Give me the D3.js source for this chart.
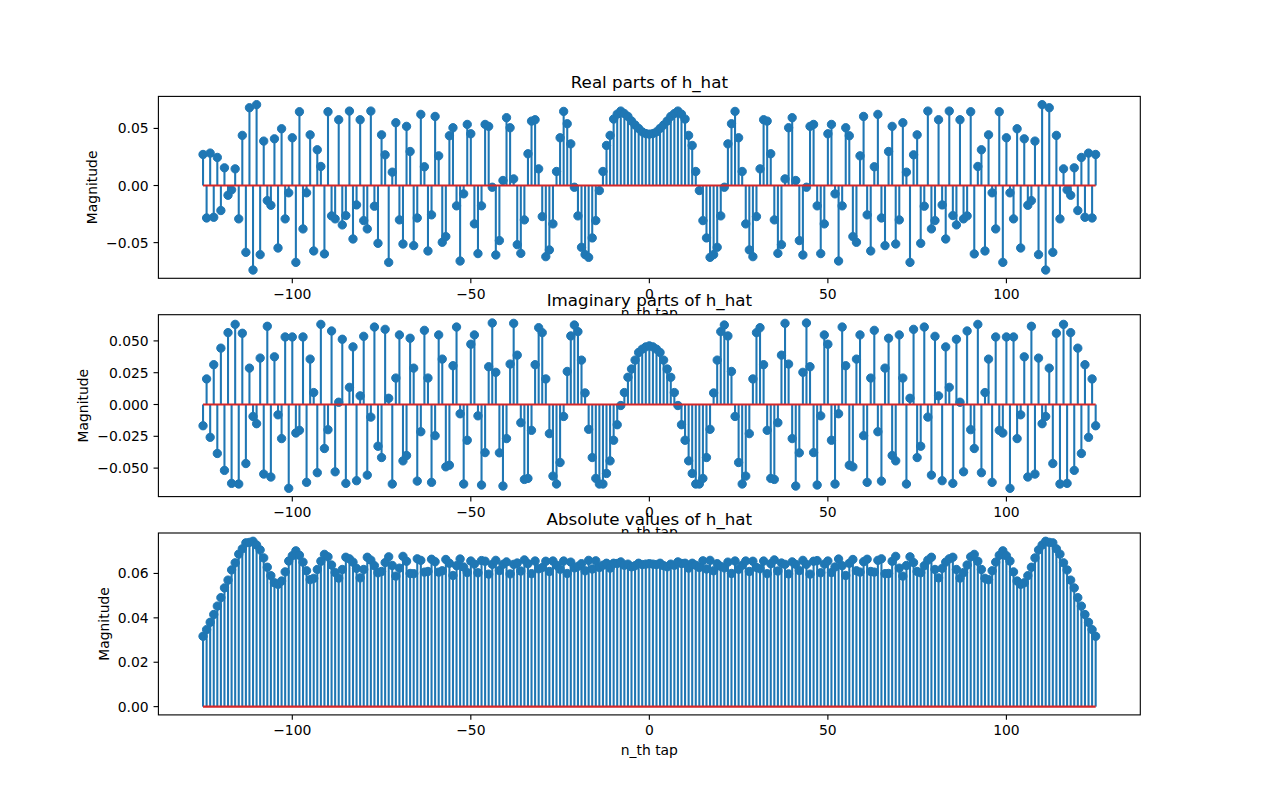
<!DOCTYPE html>
<html><head><meta charset="utf-8">
<script src="https://cdn.jsdelivr.net/npm/d3@7"></script>
<style>body{margin:0;background:#fff} text{font-family:"DejaVu Sans",sans-serif;fill:#000}</style>
</head><body><svg id="c" width="1267" height="803"></svg>
<script>
const taps = d3.range(-125, 126);
const realParts = [0.0272,-0.0284,0.0284,-0.0278,0.0246,-0.0219,0.0155,-0.0085,-0.0038,0.0146,
-0.0292,0.0439,-0.0585,0.0681,-0.0740,0.0708,-0.0605,0.0389,-0.0132,-0.0173,
0.0409,-0.0547,0.0497,-0.0292,-0.0064,0.0418,-0.0673,0.0646,-0.0380,-0.0064,
0.0444,-0.0573,0.0313,0.0167,-0.0599,0.0646,-0.0266,-0.0292,0.0576,-0.0345,
-0.0263,0.0652,-0.0468,-0.0170,0.0576,-0.0307,-0.0380,0.0652,-0.0181,-0.0506,
0.0444,0.0269,-0.0673,0.0117,0.0550,-0.0301,-0.0512,0.0518,0.0298,-0.0526,
-0.0284,0.0623,0.0164,-0.0573,-0.0257,0.0605,0.0260,-0.0497,-0.0447,0.0436,
0.0506,-0.0178,-0.0661,-0.0073,0.0535,0.0453,-0.0336,-0.0596,-0.0178,0.0535,
0.0518,-0.0015,-0.0608,-0.0482,0.0044,0.0594,0.0506,0.0058,-0.0518,-0.0594,
-0.0301,0.0278,0.0564,0.0576,0.0146,-0.0272,-0.0623,-0.0564,-0.0336,0.0123,
0.0418,0.0649,0.0541,0.0365,-0.0015,-0.0266,-0.0541,-0.0605,-0.0629,-0.0459,
-0.0307,-0.0044,0.0123,0.0351,0.0439,0.0582,0.0625,0.0652,0.0630,0.0605,
0.0565,0.0530,0.0500,0.0470,0.0455,0.0450,
0.0455,0.0470,0.0500,0.0530,0.0565,
0.0605,0.0630,0.0652,0.0625,0.0582,0.0439,0.0351,0.0123,-0.0044,-0.0307,
-0.0459,-0.0629,-0.0605,-0.0541,-0.0266,-0.0015,0.0365,0.0541,0.0649,0.0418,
0.0123,-0.0336,-0.0564,-0.0623,-0.0272,0.0146,0.0576,0.0564,0.0278,-0.0301,
-0.0594,-0.0518,0.0058,0.0506,0.0594,0.0044,-0.0482,-0.0608,-0.0015,0.0518,
0.0535,-0.0178,-0.0596,-0.0336,0.0453,0.0535,-0.0073,-0.0661,-0.0178,0.0506,
0.0436,-0.0447,-0.0497,0.0260,0.0605,-0.0257,-0.0573,0.0164,0.0623,-0.0284,
-0.0526,0.0298,0.0518,-0.0512,-0.0301,0.0550,0.0117,-0.0673,0.0269,0.0444,
-0.0506,-0.0181,0.0652,-0.0380,-0.0307,0.0576,-0.0170,-0.0468,0.0652,-0.0263,
-0.0345,0.0576,-0.0292,-0.0266,0.0646,-0.0599,0.0167,0.0313,-0.0573,0.0444,
-0.0064,-0.0380,0.0646,-0.0673,0.0418,-0.0064,-0.0292,0.0497,-0.0547,0.0409,
-0.0173,-0.0132,0.0389,-0.0605,0.0708,-0.0740,0.0681,-0.0585,0.0439,-0.0292,
0.0146,-0.0038,-0.0085,0.0155,-0.0219,0.0246,-0.0278,0.0284,-0.0284,0.0272];
const imagParts = [-0.0167,0.0201,-0.0258,0.0313,-0.0385,0.0443,-0.0518,0.0565,-0.0620,0.0630,
-0.0625,0.0560,-0.0464,0.0286,-0.0094,-0.0151,0.0365,-0.0547,0.0615,-0.0570,
0.0375,-0.0081,-0.0268,0.0531,-0.0659,0.0531,-0.0224,-0.0203,0.0531,-0.0612,
0.0357,0.0094,-0.0536,0.0630,-0.0346,-0.0198,0.0578,-0.0529,0.0018,0.0513,
-0.0620,0.0135,0.0453,-0.0599,0.0068,0.0536,-0.0555,-0.0099,0.0609,-0.0328,
-0.0417,0.0591,0.0049,-0.0625,0.0208,0.0547,-0.0443,-0.0401,0.0521,0.0286,
-0.0602,-0.0214,0.0583,0.0208,-0.0612,-0.0245,0.0547,0.0357,-0.0490,-0.0477,
0.0305,0.0609,-0.0073,-0.0625,-0.0281,0.0474,0.0547,-0.0089,-0.0633,-0.0378,
0.0297,0.0641,0.0253,-0.0380,-0.0641,-0.0268,0.0318,0.0638,0.0388,-0.0143,
-0.0589,-0.0581,-0.0203,0.0313,0.0604,0.0565,0.0201,-0.0229,-0.0563,-0.0625,
-0.0456,-0.0094,0.0260,0.0539,0.0625,0.0573,0.0349,0.0091,-0.0195,-0.0417,
-0.0581,-0.0625,-0.0625,-0.0542,-0.0443,-0.0281,-0.0159,-0.0008,0.0094,0.0214,
0.0279,0.0349,0.0409,0.0435,0.0453,0.0461,
0.0453,0.0435,0.0409,0.0349,0.0279,
0.0214,0.0094,-0.0008,-0.0159,-0.0281,-0.0443,-0.0542,-0.0625,-0.0625,-0.0581,
-0.0417,-0.0195,0.0091,0.0349,0.0573,0.0625,0.0539,0.0260,-0.0094,-0.0456,
-0.0625,-0.0563,-0.0229,0.0201,0.0565,0.0604,0.0313,-0.0203,-0.0581,-0.0589,
-0.0143,0.0388,0.0638,0.0318,-0.0268,-0.0641,-0.0380,0.0253,0.0641,0.0297,
-0.0378,-0.0633,-0.0089,0.0547,0.0474,-0.0281,-0.0625,-0.0073,0.0609,0.0305,
-0.0477,-0.0490,0.0357,0.0547,-0.0245,-0.0612,0.0208,0.0583,-0.0214,-0.0602,
0.0286,0.0521,-0.0401,-0.0443,0.0547,0.0208,-0.0625,0.0049,0.0591,-0.0417,
-0.0328,0.0609,-0.0099,-0.0555,0.0536,0.0068,-0.0599,0.0453,0.0135,-0.0620,
0.0513,0.0018,-0.0529,0.0578,-0.0198,-0.0346,0.0630,-0.0536,0.0094,0.0357,
-0.0612,0.0531,-0.0203,-0.0224,0.0531,-0.0659,0.0531,-0.0268,-0.0081,0.0375,
-0.0570,0.0615,-0.0547,0.0365,-0.0151,-0.0094,0.0286,-0.0464,0.0560,-0.0625,
0.0630,-0.0620,0.0565,-0.0518,0.0443,-0.0385,0.0313,-0.0258,0.0201,-0.0167];
const absValues = [0.0317,0.0347,0.0380,0.0415,0.0453,0.0491,0.0535,0.0570,0.0616,0.0648,
0.0687,0.0711,0.0738,0.0740,0.0745,0.0728,0.0706,0.0670,0.0628,0.0590,
0.0558,0.0551,0.0566,0.0607,0.0656,0.0680,0.0702,0.0682,0.0651,0.0612,
0.0572,0.0578,0.0618,0.0655,0.0686,0.0675,0.0638,0.0604,0.0579,0.0618,
0.0673,0.0666,0.0651,0.0623,0.0580,0.0618,0.0673,0.0660,0.0635,0.0603,
0.0609,0.0649,0.0675,0.0636,0.0588,0.0624,0.0677,0.0655,0.0600,0.0599,
0.0666,0.0659,0.0606,0.0609,0.0664,0.0653,0.0606,0.0612,0.0663,0.0646,
0.0591,0.0635,0.0665,0.0629,0.0604,0.0656,0.0642,0.0603,0.0658,0.0655,
0.0597,0.0641,0.0659,0.0613,0.0641,0.0652,0.0598,0.0641,0.0647,0.0611,
0.0661,0.0644,0.0599,0.0656,0.0621,0.0627,0.0655,0.0609,0.0656,0.0637,
0.0619,0.0656,0.0600,0.0651,0.0625,0.0632,0.0644,0.0612,0.0659,0.0620,
0.0657,0.0627,0.0637,0.0646,0.0624,0.0646,0.0645,0.0652,0.0637,0.0642,
0.0630,0.0635,0.0646,0.0640,0.0642,0.0644,
0.0642,0.0640,0.0646,0.0635,0.0630,
0.0642,0.0637,0.0652,0.0645,0.0646,0.0624,0.0646,0.0637,0.0627,0.0657,
0.0620,0.0659,0.0612,0.0644,0.0632,0.0625,0.0651,0.0600,0.0656,0.0619,
0.0637,0.0656,0.0609,0.0655,0.0627,0.0621,0.0656,0.0599,0.0644,0.0661,
0.0611,0.0647,0.0641,0.0598,0.0652,0.0641,0.0613,0.0659,0.0641,0.0597,
0.0655,0.0658,0.0603,0.0642,0.0656,0.0604,0.0629,0.0665,0.0635,0.0591,
0.0646,0.0663,0.0612,0.0606,0.0653,0.0664,0.0609,0.0606,0.0659,0.0666,
0.0599,0.0600,0.0655,0.0677,0.0624,0.0588,0.0636,0.0675,0.0649,0.0609,
0.0603,0.0635,0.0660,0.0673,0.0618,0.0580,0.0623,0.0651,0.0666,0.0673,
0.0618,0.0579,0.0604,0.0638,0.0675,0.0686,0.0655,0.0618,0.0578,0.0572,
0.0612,0.0651,0.0682,0.0702,0.0680,0.0656,0.0607,0.0566,0.0551,0.0558,
0.0590,0.0628,0.0670,0.0706,0.0728,0.0745,0.0740,0.0738,0.0711,0.0687,
0.0648,0.0616,0.0570,0.0535,0.0491,0.0453,0.0415,0.0380,0.0347,0.0317];
const xTicks = [-100, -50, 0, 50, 100];
const realTicks = [-0.05, 0, 0.05];
const imagTicks = [-0.05, -0.025, 0, 0.025, 0.05];
const absTicks = [0, 0.02, 0.04, 0.06];
const titles = ["Real parts of h_hat", "Imaginary parts of h_hat", "Absolute values of h_hat"];
const xLabel = "n_th tap";
const yLabel = "Magnitude";

const C0 = "#1f77b4", C3 = "#d62728";
const svg = d3.select("#c");
const L = 158.4, R = 1140.3, PH = 181.9;
const tops = [96.4, 314.7, 533.0];
const TL = 4.86, PAD = 4.86, FS = 13.9, TFS = 16.7;

const xr = d3.extent(taps), xm = (xr[1] - xr[0]) * 0.05;
const x = d3.scaleLinear().domain([xr[0] - xm, xr[1] + xm]).range([L, R]);

const panels = [
  {vals: realParts, ticks: realTicks, fmt: d3.format(".2f")},
  {vals: imagParts, ticks: imagTicks, fmt: d3.format(".3f")},
  {vals: absValues, ticks: absTicks, fmt: d3.format(".2f")}
];

panels.forEach((p, i) => {
  const top = tops[i], bot = top + PH;
  const ext = d3.extent(p.vals.concat([0]));
  const ym = (ext[1] - ext[0]) * 0.05;
  const y = d3.scaleLinear().domain([ext[0] - ym, ext[1] + ym]).range([bot, top]);
  const g = svg.append("g");
  g.append("rect").attr("x", L).attr("y", top).attr("width", R - L).attr("height", PH).attr("fill", "#fff");
  const data = taps.map((t, k) => ({t, v: p.vals[k]}));
  g.append("g").selectAll("line").data(data).join("line")
    .attr("x1", d => x(d.t)).attr("x2", d => x(d.t))
    .attr("y1", y(0)).attr("y2", d => y(d.v))
    .attr("stroke", C0).attr("stroke-width", 2.08);
  g.append("g").selectAll("circle").data(data).join("circle")
    .attr("cx", d => x(d.t)).attr("cy", d => y(d.v)).attr("r", 4.17)
    .attr("fill", C0).attr("stroke", C0).attr("stroke-width", 1);
  g.append("line").attr("x1", x(xr[0])).attr("x2", x(xr[1])).attr("y1", y(0)).attr("y2", y(0))
    .attr("stroke", C3).attr("stroke-width", 2.08);
  g.append("rect").attr("x", L).attr("y", top).attr("width", R - L).attr("height", PH)
    .attr("fill", "none").attr("stroke", "#000").attr("stroke-width", 1.11);
  // x ticks
  xTicks.forEach(t => {
    g.append("line").attr("x1", x(t)).attr("x2", x(t)).attr("y1", bot).attr("y2", bot + TL)
      .attr("stroke", "#000").attr("stroke-width", 1.11);
    g.append("text").attr("x", x(t)).attr("y", bot + TL + PAD + 10.6).attr("text-anchor", "middle")
      .attr("font-size", FS).text(d3.format("d")(t));
  });
  // y ticks
  let maxW = 0;
  p.ticks.forEach(t => {
    g.append("line").attr("x1", L - TL).attr("x2", L).attr("y1", y(t)).attr("y2", y(t))
      .attr("stroke", "#000").attr("stroke-width", 1.11);
    const tx = g.append("text").attr("x", L - TL - PAD).attr("y", y(t) + 5).attr("text-anchor", "end")
      .attr("font-size", FS).text(p.fmt(t));
    maxW = Math.max(maxW, tx.node().getComputedTextLength());
  });
  g.append("text").attr("x", (L + R) / 2).attr("y", top - 8.33).attr("text-anchor", "middle")
    .attr("font-size", TFS).text(titles[i]);
  g.append("text").attr("x", (L + R) / 2).attr("y", bot + 40).attr("text-anchor", "middle")
    .attr("font-size", FS).text(xLabel);
  const yx = L - TL - PAD - maxW - 5.56 - 3.3;
  g.append("text").attr("transform", `translate(${yx},${(top + bot) / 2}) rotate(-90)`)
    .attr("text-anchor", "middle").attr("font-size", FS).text(yLabel);
});
</script></body></html>
